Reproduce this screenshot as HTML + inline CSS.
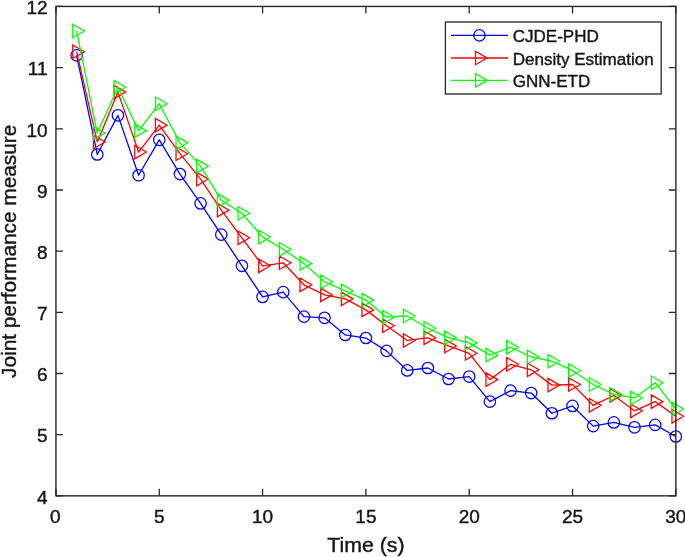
<!DOCTYPE html>
<html><head><meta charset="utf-8"><title>Joint performance measure</title>
<style>html,body{margin:0;padding:0;background:#fff}svg{display:block}text{font-family:"Liberation Sans",sans-serif;fill:#151515;stroke:#151515;stroke-width:0.4px}</style></head><body>
<svg width="685" height="557" viewBox="0 0 685 557">
<rect x="0" y="0" width="685" height="557" fill="#fff"/>
<path d="M76.61 55.39L97.28 154.49L117.94 115.34L138.60 175.29L159.27 139.81L179.93 174.07L200.59 203.43L221.26 234.63L241.92 265.83L262.58 296.91L283.25 292.14L303.91 316.61L324.57 317.83L345.24 334.96L365.90 338.02L386.56 350.87L407.23 370.44L427.89 367.99L448.55 379.01L469.22 376.56L489.88 401.64L510.54 390.63L531.21 393.08L551.87 413.26L572.53 405.92L593.20 426.11L613.86 422.44L634.52 427.33L655.19 424.89L675.85 436.51" fill="none" stroke="#0000ff" stroke-width="1.3" stroke-linejoin="round"/>
<circle cx="76.61" cy="55.39" r="5.7" fill="none" stroke="#0000ff" stroke-width="1.25"/>
<circle cx="97.28" cy="154.49" r="5.7" fill="none" stroke="#0000ff" stroke-width="1.25"/>
<circle cx="117.94" cy="115.34" r="5.7" fill="none" stroke="#0000ff" stroke-width="1.25"/>
<circle cx="138.60" cy="175.29" r="5.7" fill="none" stroke="#0000ff" stroke-width="1.25"/>
<circle cx="159.27" cy="139.81" r="5.7" fill="none" stroke="#0000ff" stroke-width="1.25"/>
<circle cx="179.93" cy="174.07" r="5.7" fill="none" stroke="#0000ff" stroke-width="1.25"/>
<circle cx="200.59" cy="203.43" r="5.7" fill="none" stroke="#0000ff" stroke-width="1.25"/>
<circle cx="221.26" cy="234.63" r="5.7" fill="none" stroke="#0000ff" stroke-width="1.25"/>
<circle cx="241.92" cy="265.83" r="5.7" fill="none" stroke="#0000ff" stroke-width="1.25"/>
<circle cx="262.58" cy="296.91" r="5.7" fill="none" stroke="#0000ff" stroke-width="1.25"/>
<circle cx="283.25" cy="292.14" r="5.7" fill="none" stroke="#0000ff" stroke-width="1.25"/>
<circle cx="303.91" cy="316.61" r="5.7" fill="none" stroke="#0000ff" stroke-width="1.25"/>
<circle cx="324.57" cy="317.83" r="5.7" fill="none" stroke="#0000ff" stroke-width="1.25"/>
<circle cx="345.24" cy="334.96" r="5.7" fill="none" stroke="#0000ff" stroke-width="1.25"/>
<circle cx="365.90" cy="338.02" r="5.7" fill="none" stroke="#0000ff" stroke-width="1.25"/>
<circle cx="386.56" cy="350.87" r="5.7" fill="none" stroke="#0000ff" stroke-width="1.25"/>
<circle cx="407.23" cy="370.44" r="5.7" fill="none" stroke="#0000ff" stroke-width="1.25"/>
<circle cx="427.89" cy="367.99" r="5.7" fill="none" stroke="#0000ff" stroke-width="1.25"/>
<circle cx="448.55" cy="379.01" r="5.7" fill="none" stroke="#0000ff" stroke-width="1.25"/>
<circle cx="469.22" cy="376.56" r="5.7" fill="none" stroke="#0000ff" stroke-width="1.25"/>
<circle cx="489.88" cy="401.64" r="5.7" fill="none" stroke="#0000ff" stroke-width="1.25"/>
<circle cx="510.54" cy="390.63" r="5.7" fill="none" stroke="#0000ff" stroke-width="1.25"/>
<circle cx="531.21" cy="393.08" r="5.7" fill="none" stroke="#0000ff" stroke-width="1.25"/>
<circle cx="551.87" cy="413.26" r="5.7" fill="none" stroke="#0000ff" stroke-width="1.25"/>
<circle cx="572.53" cy="405.92" r="5.7" fill="none" stroke="#0000ff" stroke-width="1.25"/>
<circle cx="593.20" cy="426.11" r="5.7" fill="none" stroke="#0000ff" stroke-width="1.25"/>
<circle cx="613.86" cy="422.44" r="5.7" fill="none" stroke="#0000ff" stroke-width="1.25"/>
<circle cx="634.52" cy="427.33" r="5.7" fill="none" stroke="#0000ff" stroke-width="1.25"/>
<circle cx="655.19" cy="424.89" r="5.7" fill="none" stroke="#0000ff" stroke-width="1.25"/>
<circle cx="675.85" cy="436.51" r="5.7" fill="none" stroke="#0000ff" stroke-width="1.25"/>
<path d="M76.61 51.72L97.28 141.95L117.94 92.10L138.60 152.05L159.27 125.13L179.93 153.70L200.59 179.09L221.26 210.16L241.92 237.81L262.58 265.83L283.25 262.77L303.91 284.80L324.57 294.89L345.24 298.87L365.90 309.88L386.56 325.78L407.23 340.47L427.89 337.83L448.55 345.97L469.22 353.31L489.88 379.62L510.54 364.32L531.21 369.83L551.87 385.12L572.53 384.51L593.20 405.31L613.86 395.52L634.52 410.82L655.19 401.64L675.85 416.32" fill="none" stroke="#ff0000" stroke-width="1.3" stroke-linejoin="round"/>
<path d="M72.72 44.97L84.41 51.72L72.72 58.47ZM93.38 135.20L105.07 141.95L93.38 148.70ZM114.04 85.35L125.73 92.10L114.04 98.85ZM134.71 145.30L146.40 152.05L134.71 158.80ZM155.37 118.38L167.06 125.13L155.37 131.88ZM176.03 146.95L187.72 153.70L176.03 160.45ZM196.70 172.34L208.39 179.09L196.70 185.84ZM217.36 203.41L229.05 210.16L217.36 216.91ZM238.02 231.06L249.71 237.81L238.02 244.56ZM258.69 259.08L270.38 265.83L258.69 272.58ZM279.35 256.02L291.04 262.77L279.35 269.52ZM300.01 278.05L311.70 284.80L300.01 291.55ZM320.68 288.14L332.37 294.89L320.68 301.64ZM341.34 292.12L353.03 298.87L341.34 305.62ZM362.00 303.13L373.69 309.88L362.00 316.63ZM382.67 319.03L394.36 325.78L382.67 332.53ZM403.33 333.72L415.02 340.47L403.33 347.22ZM423.99 331.08L435.68 337.83L423.99 344.58ZM444.66 339.22L456.35 345.97L444.66 352.72ZM465.32 346.56L477.01 353.31L465.32 360.06ZM485.98 372.87L497.67 379.62L485.98 386.37ZM506.65 357.57L518.34 364.32L506.65 371.07ZM527.31 363.08L539.00 369.83L527.31 376.58ZM547.97 378.37L559.66 385.12L547.97 391.87ZM568.64 377.76L580.33 384.51L568.64 391.26ZM589.30 398.56L600.99 405.31L589.30 412.06ZM609.96 388.77L621.65 395.52L609.96 402.27ZM630.63 404.07L642.32 410.82L630.63 417.57ZM651.29 394.89L662.98 401.64L651.29 408.39ZM671.95 409.57L683.64 416.32L671.95 423.07Z" fill="none" stroke="#ff0000" stroke-width="1.25" stroke-linejoin="miter"/>
<path d="M76.61 30.92L97.28 133.08L117.94 87.20L138.60 130.64L159.27 103.72L179.93 142.87L200.59 166.12L221.26 200.37L241.92 213.22L262.58 237.08L283.25 249.31L303.91 263.38L324.57 281.74L345.24 290.91L365.90 300.09L386.56 317.22L407.23 316.00L427.89 328.23L448.55 337.71L469.22 342.91L489.88 355.15L510.54 347.19L531.21 356.98L551.87 361.26L572.53 370.44L593.20 384.51L613.86 394.30L634.52 397.97L655.19 382.68L675.85 408.98" fill="none" stroke="#00ff00" stroke-width="1.3" stroke-linejoin="round"/>
<path d="M72.72 24.17L84.41 30.92L72.72 37.67ZM93.38 126.33L105.07 133.08L93.38 139.83ZM114.04 80.45L125.73 87.20L114.04 93.95ZM134.71 123.89L146.40 130.64L134.71 137.39ZM155.37 96.97L167.06 103.72L155.37 110.47ZM176.03 136.12L187.72 142.87L176.03 149.62ZM196.70 159.37L208.39 166.12L196.70 172.87ZM217.36 193.62L229.05 200.37L217.36 207.12ZM238.02 206.47L249.71 213.22L238.02 219.97ZM258.69 230.33L270.38 237.08L258.69 243.83ZM279.35 242.56L291.04 249.31L279.35 256.06ZM300.01 256.63L311.70 263.38L300.01 270.13ZM320.68 274.99L332.37 281.74L320.68 288.49ZM341.34 284.16L353.03 290.91L341.34 297.66ZM362.00 293.34L373.69 300.09L362.00 306.84ZM382.67 310.47L394.36 317.22L382.67 323.97ZM403.33 309.25L415.02 316.00L403.33 322.75ZM423.99 321.48L435.68 328.23L423.99 334.98ZM444.66 330.96L456.35 337.71L444.66 344.46ZM465.32 336.16L477.01 342.91L465.32 349.66ZM485.98 348.40L497.67 355.15L485.98 361.90ZM506.65 340.44L518.34 347.19L506.65 353.94ZM527.31 350.23L539.00 356.98L527.31 363.73ZM547.97 354.51L559.66 361.26L547.97 368.01ZM568.64 363.69L580.33 370.44L568.64 377.19ZM589.30 377.76L600.99 384.51L589.30 391.26ZM609.96 387.55L621.65 394.30L609.96 401.05ZM630.63 391.22L642.32 397.97L630.63 404.72ZM651.29 375.93L662.98 382.68L651.29 389.43ZM671.95 402.23L683.64 408.98L671.95 415.73Z" fill="none" stroke="#00ff00" stroke-width="1.25" stroke-linejoin="miter"/>
<rect x="55.95" y="6.45" width="619.90" height="489.40" fill="none" stroke="#262626" stroke-width="1.4"/>
<path d="M55.95 495.85V488.85M55.95 6.45V13.45M159.27 495.85V488.85M159.27 6.45V13.45M262.58 495.85V488.85M262.58 6.45V13.45M365.90 495.85V488.85M365.90 6.45V13.45M469.22 495.85V488.85M469.22 6.45V13.45M572.53 495.85V488.85M572.53 6.45V13.45M675.85 495.85V488.85M675.85 6.45V13.45M55.95 495.85H62.95M675.85 495.85H668.85M55.95 434.68H62.95M675.85 434.68H668.85M55.95 373.50H62.95M675.85 373.50H668.85M55.95 312.33H62.95M675.85 312.33H668.85M55.95 251.15H62.95M675.85 251.15H668.85M55.95 189.98H62.95M675.85 189.98H668.85M55.95 128.80H62.95M675.85 128.80H668.85M55.95 67.62H62.95M675.85 67.62H668.85M55.95 6.45H62.95M675.85 6.45H668.85" fill="none" stroke="#262626" stroke-width="1.3"/>
<text x="55.35" y="523.2" font-size="19.0" text-anchor="middle">0</text>
<text x="159.27" y="523.2" font-size="19.0" text-anchor="middle">5</text>
<text x="262.58" y="523.2" font-size="19.0" text-anchor="middle">10</text>
<text x="365.90" y="523.2" font-size="19.0" text-anchor="middle">15</text>
<text x="469.22" y="523.2" font-size="19.0" text-anchor="middle">20</text>
<text x="572.53" y="523.2" font-size="19.0" text-anchor="middle">25</text>
<text x="675.85" y="523.2" font-size="19.0" text-anchor="middle">30</text>
<text x="47.6" y="503.65" font-size="19.0" text-anchor="end">4</text>
<text x="47.6" y="442.48" font-size="19.0" text-anchor="end">5</text>
<text x="47.6" y="381.30" font-size="19.0" text-anchor="end">6</text>
<text x="47.6" y="320.13" font-size="19.0" text-anchor="end">7</text>
<text x="47.6" y="258.95" font-size="19.0" text-anchor="end">8</text>
<text x="47.6" y="197.78" font-size="19.0" text-anchor="end">9</text>
<text x="47.6" y="136.60" font-size="19.0" text-anchor="end">10</text>
<text x="47.6" y="75.42" font-size="19.0" text-anchor="end">11</text>
<text x="47.6" y="14.25" font-size="19.0" text-anchor="end">12</text>
<text transform="translate(365.85 551.8) scale(1.015 1)" font-size="21" text-anchor="middle">Time (s)</text>
<text transform="translate(16 251.35) rotate(-90) scale(1.02 1)" font-size="20.4" text-anchor="middle">Joint performance measure</text>
<rect x="445.4" y="22" width="215.8" height="72" fill="#fff" stroke="#262626" stroke-width="1.3"/>
<path d="M451 35.4H508" stroke="#0000ff" stroke-width="1.3" fill="none"/>
<circle cx="479.4" cy="35.4" r="5.7" fill="none" stroke="#0000ff" stroke-width="1.25"/>
<text transform="translate(512.7 42.10) scale(1.02 1)" font-size="16.7">CJDE-PHD</text>
<path d="M451 58.0H508" stroke="#ff0000" stroke-width="1.3" fill="none"/>
<path d="M475.50 51.25L487.19 58.00L475.50 64.75Z" fill="none" stroke="#ff0000" stroke-width="1.25"/>
<text transform="translate(512.7 64.70) scale(1.02 1)" font-size="16.7">Density Estimation</text>
<path d="M451 80.4H508" stroke="#00ff00" stroke-width="1.3" fill="none"/>
<path d="M475.50 73.65L487.19 80.40L475.50 87.15Z" fill="none" stroke="#00ff00" stroke-width="1.25"/>
<text transform="translate(512.7 87.10) scale(1.02 1)" font-size="16.7">GNN-ETD</text>
</svg></body></html>
